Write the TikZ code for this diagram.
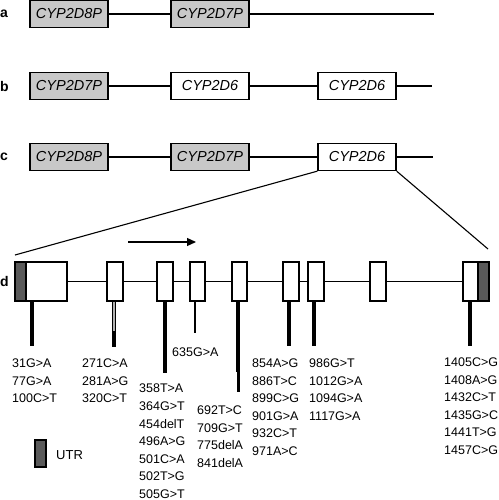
\documentclass[tikz,border=0pt]{standalone}
\usepackage{fontspec}
\setmainfont{Liberation Sans}
\usetikzlibrary{arrows.meta}
\definecolor{pseudo}{HTML}{C8C8C8}
\definecolor{utr}{HTML}{5A5A5A}
\begin{document}
\begin{tikzpicture}[x=1pt,y=-1pt,
  genebox/.style={draw, line width=1.3pt, minimum width=78pt, minimum height=27pt, inner sep=0pt, font=\fontsize{14.5}{16}\selectfont\itshape},
  pseudobox/.style={genebox, fill=pseudo},
  realbox/.style={genebox, fill=white},
  chrom/.style={line width=1.3pt},
  exon/.style={draw, line width=1.1pt, fill=white, minimum height=39pt, inner sep=0pt},
  utrbox/.style={draw, line width=1.1pt, fill=utr, minimum height=39pt, inner sep=0pt},
  intron/.style={line width=1pt},
  zoomline/.style={line width=1.1pt},
  snpbar/.style={line width=4pt},
  thinbar/.style={line width=1.2pt},
  rowlabel/.style={anchor=west, inner sep=0pt, font=\fontsize{14}{16}\selectfont\bfseries},
  mut/.style={anchor=north west, inner sep=0pt, align=left, font=\fontsize{12.5}{17.6}\selectfont}
]
\useasboundingbox (0,0) rectangle (498,500);
% row a
\node[rowlabel] (la) at (0,14) {a};
\node[pseudobox] (a1) at (69,14) {CYP2D8P};
\node[pseudobox] (a2) at (210,14) {CYP2D7P};
\coordinate (aend) at (434,14);
\draw[chrom] (a1.east) -- (a2.west) (a2.east) -- (aend);
% row b
\node[rowlabel] (lb) at (0,86) {b};
\node[pseudobox] (b1) at (69,86) {CYP2D7P};
\node[realbox] (b2) at (210,86) {CYP2D6};
\node[realbox] (b3) at (357,86) {CYP2D6};
\coordinate (bend) at (432,86);
\draw[chrom] (b1.east) -- (b2.west) (b2.east) -- (b3.west) (b3.east) -- (bend);
% row c
\node[rowlabel] (lc) at (0,157) {c};
\node[pseudobox] (c1) at (69,157) {CYP2D8P};
\node[pseudobox] (c2) at (210,157) {CYP2D7P};
\node[realbox] (c3) at (357,157) {CYP2D6};
\coordinate (cend) at (433,157);
\draw[chrom] (c1.east) -- (c2.west) (c2.east) -- (c3.west) (c3.east) -- (cend);
% zoom lines
\coordinate (zl) at (15,255);
\coordinate (zr) at (488,249);
\draw[zoomline] (c3.south west) -- (zl);
\draw[zoomline] (c3.south east) -- (zr);
% direction arrow
\coordinate (arrs) at (128,242);
\coordinate (arre) at (196,242);
\draw[line width=1.2pt, -{Triangle[length=9pt,width=8pt]}] (arrs) -- (arre);
% row d
\node[rowlabel] (ld) at (0,281) {d};
\node[utrbox, minimum width=11pt] (u1) at (20.5,281.5) {};
\node[exon, minimum width=41pt] (e1) at (46.5,281.5) {};
\node[exon, minimum width=16pt] (e2) at (115,281.5) {};
\node[exon, minimum width=16pt] (e3) at (165,281.5) {};
\node[exon, minimum width=15pt] (e4) at (197.5,281.5) {};
\node[exon, minimum width=15pt] (e5) at (239.5,281.5) {};
\node[exon, minimum width=16pt] (e6) at (291,281.5) {};
\node[exon, minimum width=16pt] (e7) at (316,281.5) {};
\node[exon, minimum width=16pt] (e8) at (378,281.5) {};
\node[exon, minimum width=15pt] (e9) at (470.5,281.5) {};
\node[utrbox, minimum width=11pt] (u9) at (483.5,281.5) {};
\draw[intron] (e1.east) -- (e2.west) (e2.east) -- (e3.west) (e3.east) -- (e4.west)
  (e4.east) -- (e5.west) (e5.east) -- (e6.west) (e6.east) -- (e7.west)
  (e7.east) -- (e8.west) (e8.east) -- (e9.west);
% variant bars
\coordinate (b1e) at (32,346);
\draw[snpbar] (32,301) -- (b1e);
\coordinate (b2a) at (114,301); \coordinate (b2m) at (114,331); \coordinate (b2e) at (114,346);
\filldraw[fill=gray!60, draw=black, line width=0.6pt] (112.6,301) rectangle (115.4,346);
\draw[line width=3pt] (b2m) -- (b2e);
\coordinate (b3e) at (165,373);
\draw[snpbar] (165,301) -- (b3e);
\coordinate (b4e) at (195,333);
\draw[thinbar] (195,301) -- (b4e);
\coordinate (b5m) at (238,372);
\coordinate (b5e) at (238,392);
\draw[snpbar] (238,301) -- (b5m);
\draw[line width=3.6pt] (238.3,371) -- (238.3,392);
\coordinate (b6e) at (289,346);
\draw[snpbar] (289,301) -- (b6e);
\coordinate (b7e) at (314,346);
\draw[snpbar] (314,301) -- (b7e);
\coordinate (b9e) at (470,346);
\draw[snpbar] (470,301) -- (b9e);
% mutation lists
\node[mut] (m1) at (12,358.5) {31G>A\\77G>A\\100C>T};
\node[mut] (m2) at (82,358.5) {271C>A\\281A>G\\320C>T};
\node[mut] (m4) at (172,347.5) {635G>A};
\node[mut] (m3) at (139,384) {358T>A\\364G>T\\454delT\\496A>G\\501C>A\\502T>G\\505G>T};
\node[mut] (m5) at (197,405.5) {692T>C\\709G>T\\775delA\\841delA};
\node[mut] (m6) at (252,358.5) {854A>G\\886T>C\\899C>G\\901G>A\\932C>T\\971A>C};
\node[mut] (m7) at (309,358.5) {986G>T\\1012G>A\\1094G>A\\1117G>A};
\node[mut] (m9) at (444,357.5) {1405C>G\\1408A>G\\1432C>T\\1435G>C\\1441T>G\\1457C>G};
% legend
\node[utrbox, minimum width=11pt, minimum height=27pt] (leg) at (40.5,453.5) {};
\node[anchor=west, inner sep=0pt, font=\fontsize{13}{15}\selectfont] (legt) at (56,455) {UTR};
\end{tikzpicture}
\end{document}
